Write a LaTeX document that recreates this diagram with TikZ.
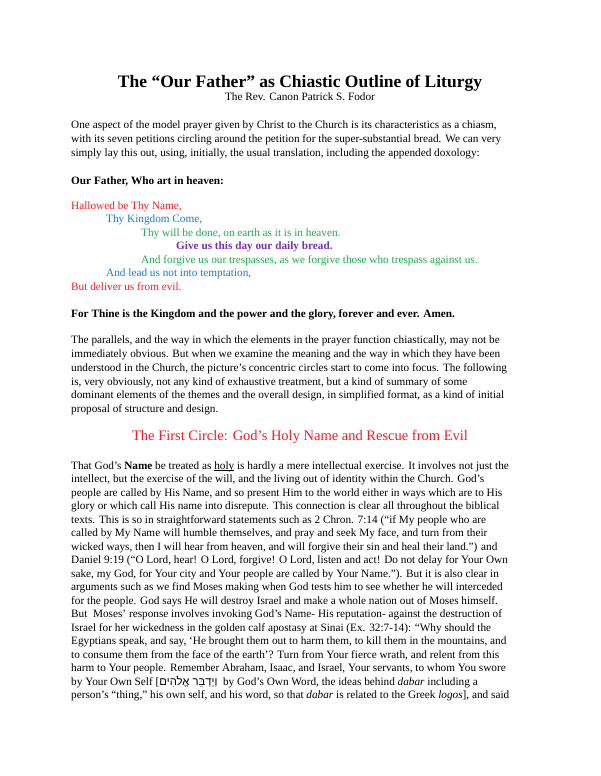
\documentclass[tikz,border=0pt]{standalone}
\usepackage{fontspec}
\setmainfont{Liberation Serif}
\newfontfamily\hebfont[Script=Hebrew]{Liberation Sans}
\TeXXeTstate=1
\definecolor{cred}{RGB}{240,30,40}
\definecolor{cblue}{RGB}{30,120,200}
\definecolor{cgreen}{RGB}{30,170,80}
\definecolor{cpurple}{RGB}{120,50,170}
\newcommand{\myul}[1]{\setbox0\hbox{#1}\rlap{\rule[-1.6pt]{\wd0}{0.5pt}}\box0\relax}
\tikzset{ln/.style={anchor=base west,inner sep=0pt,font=\fontsize{11.25}{13}\selectfont}}
\begin{document}
\begin{tikzpicture}[x=1pt,y=1pt]
\useasboundingbox (0,0) rectangle (600,-776);
\fill[white] (0,0) rectangle (600,-776);
\node[anchor=base,inner sep=0pt,font=\fontsize{17.5}{20}\selectfont\bfseries] (title) at (300,-87) {The “Our Father” as Chiastic Outline of Liturgy};
\node[anchor=base,inner sep=0pt,font=\fontsize{11.25}{13}\selectfont] (auth) at (300,-100) {The Rev. Canon Patrick S. Fodor};
\node[ln] (p1) at (71,-128) {One aspect of the model prayer given by Christ to the Church is its characteristics as a chiasm,};
\node[ln] (p2) at (71,-142) {with its seven petitions circling around the petition for the super-substantial bread. We can very};
\node[ln] (p3) at (71,-156) {simply lay this out, using, initially, the usual translation, including the appended doxology:};
\node[ln,font=\fontsize{11.25}{13}\selectfont\bfseries] (of) at (71,-184) {Our Father, Who art in heaven:};
\node[ln,text=cred] (c1) at (71,-209) {Hallowed be Thy Name,};
\node[ln,text=cblue] (c2) at (106,-222) {Thy Kingdom Come,};
\node[ln,text=cgreen] (c3) at (141,-236) {Thy will be done, on earth as it is in heaven.};
\node[ln,text=cpurple,font=\fontsize{11.25}{13}\selectfont\bfseries] (c4) at (176,-249) {Give us this day our daily bread.};
\node[ln,text=cgreen] (c5) at (141,-263) {And forgive us our trespasses, as we forgive those who trespass against us.};
\node[ln,text=cblue] (c6) at (106,-276) {And lead us not into temptation,};
\node[ln,text=cred] (c7) at (71,-290) {But deliver us from evil.};
\node[ln,font=\fontsize{11.25}{13}\selectfont\bfseries] (dox) at (71,-317) {For Thine is the Kingdom and the power and the glory, forever and ever. Amen.};
\node[ln] (q1) at (71,-343) {The parallels, and the way in which the elements in the prayer function chiastically, may not be};
\node[ln] (q2) at (71,-357) {immediately obvious. But when we examine the meaning and the way in which they have been};
\node[ln] (q3) at (71,-371) {understood in the Church, the picture’s concentric circles start to come into focus. The following};
\node[ln] (q4) at (71,-385) {is, very obviously, not any kind of exhaustive treatment, but a kind of summary of some};
\node[ln] (q5) at (71,-398) {dominant elements of the themes and the overall design, in simplified format, as a kind of initial};
\node[ln] (q6) at (71,-412) {proposal of structure and design.};
\node[anchor=base,inner sep=0pt,text=cred,font=\fontsize{14.5}{17}\selectfont] (h1) at (300,-440) {The First Circle: God’s Holy Name and Rescue from Evil};
\node[ln] (r1) at (71,-469) {That God’s \textbf{Name} be treated as \myul{holy} is hardly a mere intellectual exercise. It involves not just the};
\node[ln] (r2) at (71,-482) {intellect, but the exercise of the will, and the living out of identity within the Church. God’s};
\node[ln] (r3) at (71,-496) {people are called by His Name, and so present Him to the world either in ways which are to His};
\node[ln] (r4) at (71,-509) {glory or which call His name into disrepute. This connection is clear all throughout the biblical};
\node[ln] (r5) at (71,-523) {texts. This is so in straightforward statements such as 2 Chron. 7:14 (“if My people who are};
\node[ln] (r6) at (71,-536) {called by My Name will humble themselves, and pray and seek My face, and turn from their};
\node[ln] (r7) at (71,-550) {wicked ways, then I will hear from heaven, and will forgive their sin and heal their land.”) and};
\node[ln] (r8) at (71,-563) {Daniel 9:19 (“O Lord, hear! O Lord, forgive! O Lord, listen and act! Do not delay for Your Own};
\node[ln] (r9) at (71,-577) {sake, my God, for Your city and Your people are called by Your Name.”). But it is also clear in};
\node[ln] (r10) at (71,-590) {arguments such as we find Moses making when God tests him to see whether he will interceded};
\node[ln] (r11) at (71,-604) {for the people. God says He will destroy Israel and make a whole nation out of Moses himself.};
\node[ln] (r12) at (71,-617) {But\ \ Moses’ response involves invoking God’s Name- His reputation- against the destruction of};
\node[ln] (r13) at (71,-631) {Israel for her wickedness in the golden calf apostasy at Sinai (Ex. 32:7-14): “Why should the};
\node[ln] (r14) at (71,-644) {Egyptians speak, and say, ‘He brought them out to harm them, to kill them in the mountains, and};
\node[ln] (r15) at (71,-658) {to consume them from the face of the earth’? Turn from Your fierce wrath, and relent from this};
\node[ln] (r16) at (71,-671) {harm to Your people. Remember Abraham, Isaac, and Israel, Your servants, to whom You swore};
\node[ln] (r17) at (71,-685) {by Your Own Self [\hbox{\hebfont\beginR וַיְדַבֵּר אֱלֹהִים\endR}\ \ by God’s Own Word, the ideas behind \textit{dabar} including a};
\node[ln] (r18) at (71,-698) {person’s “thing,” his own self, and his word, so that \textit{dabar} is related to the Greek \textit{logos}], and said};
\end{tikzpicture}
\end{document}
